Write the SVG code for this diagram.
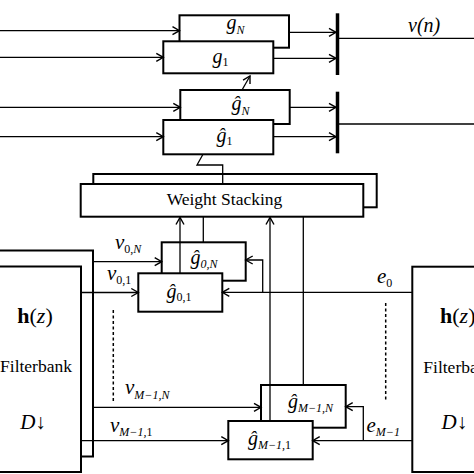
<svg xmlns="http://www.w3.org/2000/svg" width="474" height="474" viewBox="0 0 474 474">
<style>
.box{fill:#fff;stroke:#000;stroke-width:2}
.ln{fill:none;stroke:#000;stroke-width:1.3}
.bar{fill:none;stroke:#000;stroke-width:3.5}
.dot{fill:none;stroke:#000;stroke-width:1.5;stroke-dasharray:3,2.5}
.t{font-family:"Liberation Serif","Times New Roman",serif;fill:#000}
.i{font-style:italic}
.s{font-size:12px}
</style>
<defs>
<marker id="a" markerUnits="userSpaceOnUse" markerWidth="10" markerHeight="10" refX="7" refY="4" orient="auto" overflow="visible">
<path d="M0,0 L7,4 L0,8" fill="none" stroke="#000" stroke-width="1.4"/>
</marker>
</defs>
<rect width="474" height="474" fill="#fff"/>

<g id="ws">
<rect class="box" x="93.3" y="174" width="283.4" height="33.3"/>
<rect class="box" x="80.7" y="184" width="282.6" height="32.7"/>
<text class="t" x="224.5" y="205" font-size="17.5" text-anchor="middle">Weight Stacking</text>
</g>

<g id="gN">
<rect class="box" x="179.5" y="15.3" width="109.5" height="32.4"/>
<text class="t i" x="226.5" y="29" font-size="20">g<tspan class="s" dy="5">N</tspan></text>
</g>
<g id="g1">
<rect class="box" x="163.3" y="41.3" width="110" height="32"/>
<text class="t i" x="212.5" y="62.5" font-size="20">g<tspan class="s" font-style="normal" dy="3">1</tspan></text>
</g>
<g id="ghN">
<rect class="box" x="180.3" y="90" width="109.4" height="34"/>
<text class="t i" x="231.5" y="110" font-size="20">ĝ<tspan class="s" dy="5">N</tspan></text>
</g>
<g id="gh1">
<rect class="box" x="163.3" y="120" width="110" height="34.3"/>
<text class="t i" x="216.5" y="141.5" font-size="20">ĝ<tspan class="s" font-style="normal" dy="3">1</tspan></text>
</g>

<g id="fbL">
<rect class="box" x="-20" y="250.5" width="113" height="206"/>
<rect class="box" x="-20" y="266.5" width="101" height="205.5"/>
<text class="t" x="35" y="323" font-size="22" text-anchor="middle"><tspan font-weight="bold">h</tspan>(<tspan class="i">z</tspan>)</text>
<text class="t" x="36" y="372" font-size="17.5" text-anchor="middle">Filterbank</text>
<text class="t" x="33" y="429" font-size="21" text-anchor="middle"><tspan class="i">D</tspan>↓</text>
</g>
<g id="fbR">
<rect class="box" x="412.3" y="266.7" width="90" height="205.3"/>
<text class="t" x="440" y="323" font-size="22"><tspan font-weight="bold">h</tspan>(<tspan class="i">z</tspan>)</text>
<text class="t" x="423.3" y="372.5" font-size="17.5">Filterbank</text>
<text class="t" x="441.5" y="428.5" font-size="21"><tspan class="i">D</tspan>↓</text>
</g>

<g id="g0N">
<rect class="box" x="161.7" y="242.3" width="84" height="38.4"/>
<text class="t i" x="190.5" y="263.5" font-size="20">ĝ<tspan class="s" dy="4">0,N</tspan></text>
</g>
<g id="g01">
<rect class="box" x="138.3" y="273.3" width="84" height="38.4"/>
<text class="t i" x="166.5" y="298" font-size="20">ĝ<tspan class="s" font-style="normal" dy="3">0,1</tspan></text>
</g>
<g id="gMN">
<rect class="box" x="261" y="385" width="84.7" height="42.7"/>
<text class="t i" x="288" y="408" font-size="20">ĝ<tspan class="s" dy="4">M−1,N</tspan></text>
</g>
<g id="gM1">
<rect class="box" x="228.3" y="421" width="84.4" height="38.3"/>
<text class="t i" x="248" y="444.5" font-size="20">ĝ<tspan class="s" dy="4">M−1,</tspan><tspan class="s" font-style="normal">1</tspan></text>
</g>

<g id="connectors">
<line class="ln" x1="0" y1="30.7" x2="179.5" y2="30.7" marker-end="url(#a)"/>
<line class="ln" x1="0" y1="57.3" x2="163.3" y2="57.3" marker-end="url(#a)"/>
<line class="ln" x1="289" y1="32.3" x2="336" y2="32.3" marker-end="url(#a)"/>
<line class="ln" x1="273.3" y1="58.3" x2="336" y2="58.3" marker-end="url(#a)"/>
<line class="bar" x1="337.5" y1="13.3" x2="337.5" y2="75"/>
<line class="ln" x1="337.5" y1="38.3" x2="474" y2="38.3"/>
<line class="ln" x1="0" y1="107.3" x2="180.3" y2="107.3" marker-end="url(#a)"/>
<line class="ln" x1="0" y1="136.7" x2="163.3" y2="136.7" marker-end="url(#a)"/>
<line class="ln" x1="289.7" y1="107.3" x2="336" y2="107.3" marker-end="url(#a)"/>
<line class="ln" x1="273.3" y1="136.7" x2="336" y2="136.7" marker-end="url(#a)"/>
<line class="bar" x1="337.5" y1="91.7" x2="337.5" y2="153.3"/>
<line class="ln" x1="337.5" y1="124" x2="474" y2="124"/>
<line class="ln" x1="242.3" y1="89.5" x2="250" y2="76" marker-end="url(#a)"/>
<polyline class="ln" points="222.7,184 222.7,165 197,165 203,154.3"/>

<line class="ln" x1="180" y1="273.3" x2="180" y2="217.5" marker-end="url(#a)"/>
<line class="ln" x1="203.3" y1="242.3" x2="203.3" y2="216.7"/>
<line class="ln" x1="270" y1="421" x2="270" y2="217.5" marker-end="url(#a)"/>
<line class="ln" x1="303.3" y1="385" x2="303.3" y2="216.7"/>

<line class="ln" x1="93" y1="261.7" x2="161.7" y2="261.7" marker-end="url(#a)"/>
<line class="ln" x1="81" y1="292.5" x2="138.3" y2="292.5" marker-end="url(#a)"/>
<line class="ln" x1="412.3" y1="292.3" x2="222.3" y2="292.3" marker-end="url(#a)"/>
<polyline class="ln" points="262.7,292.3 262.7,260 245.7,260" marker-end="url(#a)"/>
<line class="ln" x1="93" y1="407.3" x2="261" y2="407.3" marker-end="url(#a)"/>
<line class="ln" x1="81" y1="440.7" x2="228.3" y2="440.7" marker-end="url(#a)"/>
<line class="ln" x1="412.3" y1="440.7" x2="312.7" y2="440.7" marker-end="url(#a)"/>
<polyline class="ln" points="363.3,440.7 363.3,406.7 345.7,406.7" marker-end="url(#a)"/>

<line class="dot" x1="113.3" y1="310" x2="113.3" y2="401.7"/>
<line class="dot" x1="385.7" y1="303" x2="385.7" y2="400"/>
</g>

<g id="labels">
<text class="t i" x="408" y="32" font-size="20">v(n)</text>
<text class="t i" x="115" y="248.5" font-size="21">v<tspan class="s" font-style="normal" dy="4">0,</tspan><tspan class="s">N</tspan></text>
<text class="t i" x="107" y="280" font-size="21">v<tspan class="s" font-style="normal" dy="4">0,1</tspan></text>
<text class="t i" x="125" y="393.5" font-size="21">v<tspan class="s" dy="5">M−1,N</tspan></text>
<text class="t i" x="110" y="431.5" font-size="21">v<tspan class="s" dy="4">M−1,</tspan><tspan class="s" font-style="normal">1</tspan></text>
<text class="t i" x="377" y="283" font-size="21">e<tspan class="s" font-style="normal" dy="4">0</tspan></text>
<text class="t i" x="366.5" y="431.5" font-size="21">e<tspan class="s" dy="4">M−1</tspan></text>
</g>
</svg>
